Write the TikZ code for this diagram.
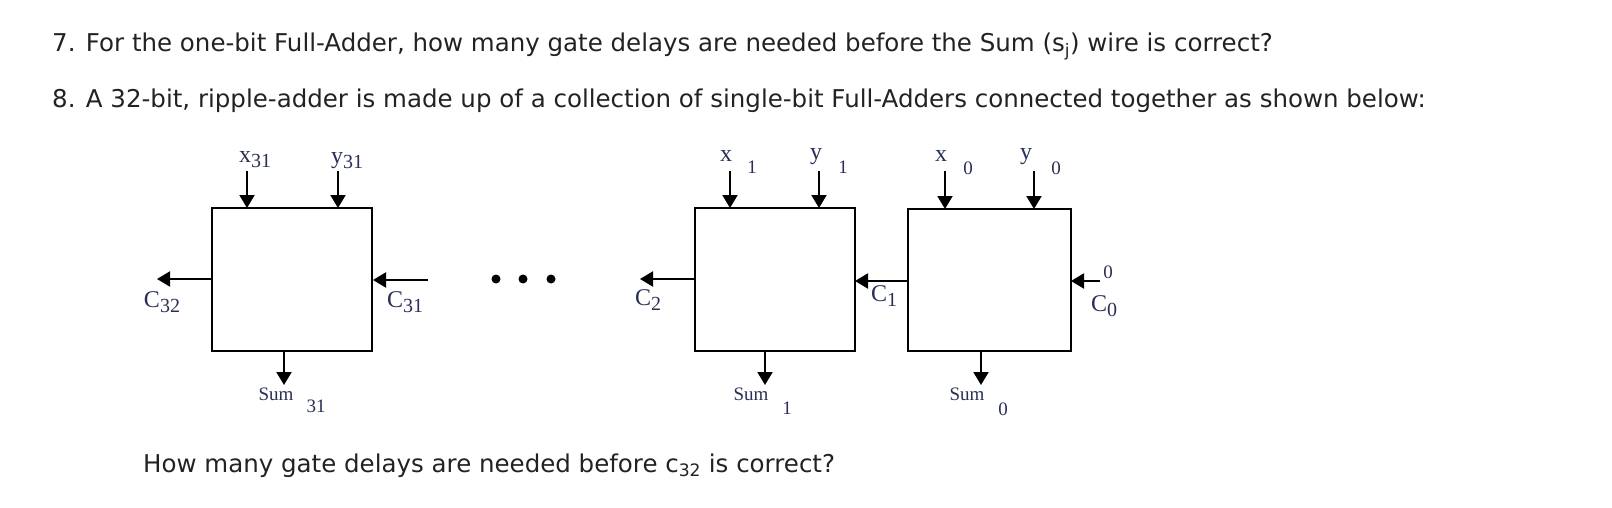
\documentclass[tikz,border=0pt]{standalone}
\usepackage{fontspec}
\setmainfont{DejaVu Sans}
\newfontfamily\lbl{Liberation Serif}
\usetikzlibrary{arrows.meta}
\definecolor{lab}{HTML}{2A2F55}
\definecolor{txt}{HTML}{222222}
\newcommand{\sbx}[1]{\raisebox{-5pt}{\fontsize{20}{20}\selectfont #1}}
\begin{document}
\begin{tikzpicture}[x=1pt,y=-1pt,
  box/.style={draw,line width=2pt,inner sep=0},
  wire/.style={line width=2pt,-{Triangle[length=13pt,width=15pt]}},
  q/.style={anchor=base west,text=txt,font=\fontsize{24.5}{28}\selectfont,inner sep=0},
  l/.style={text=lab,font=\lbl\fontsize{24}{26}\selectfont,inner sep=0},
  s/.style={text=lab,font=\lbl\fontsize{19}{21}\selectfont,inner sep=0}]
\useasboundingbox (0,0) rectangle (1612,508);
\node[q] (t7) at (52,52) {7. For the one-bit Full-Adder, how many gate delays are needed before the Sum (s\textsubscript{j}) wire is correct?};
\node[q] (t8) at (52,108) {8. A 32-bit, ripple-adder is made up of a collection of single-bit Full-Adders connected together as shown below:};
\node[q] (tq) at (143,472) {How many gate delays are needed before c\textsubscript{32} is correct?};
% boxes
\draw[box] (212,208) rectangle (372,351);
\draw[box] (695,208) rectangle (855,351);
\draw[box] (908,209) rectangle (1071,351);
% box 31
\coordinate (x31) at (247,171); \coordinate (x31e) at (247,208);
\coordinate (y31) at (338,171); \coordinate (y31e) at (338,208);
\draw[wire] (x31) -- (x31e); \draw[wire] (y31) -- (y31e);
\coordinate (c32s) at (212,279); \coordinate (c32e) at (157,279);
\draw[wire] (c32s) -- (c32e);
\coordinate (c31s) at (428,280); \coordinate (c31e) at (373,280);
\draw[wire] (c31s) -- (c31e);
\coordinate (s31s) at (284,351); \coordinate (s31e) at (284,385);
\draw[wire] (s31s) -- (s31e);
\node[l] (lx31) at (255,160) {x\sbx{31}};
\node[l] (ly31) at (347,161) {y\sbx{31}};
\node[l] (lc32) at (162,302) {C\sbx{32}};
\node[l] (lc31) at (405,302) {C\sbx{31}};
\node[s] (ls31) at (276,394) {Sum};
\node[s] (ls31i) at (316,406) {31};
% dots
\foreach \i/\xx in {1/496,2/523,3/551} \fill (\xx,279) circle (4.5pt);
% box 1
\draw[wire] (730,171) -- (730,208); \draw[wire] (819,171) -- (819,208);
\coordinate (c2s) at (695,279); \coordinate (c2e) at (640,279);
\draw[wire] (c2s) -- (c2e);
\coordinate (c1s) at (908,281); \coordinate (c1e) at (855,281);
\draw[wire] (c1s) -- (c1e);
\draw[wire] (765,351) -- (765,385);
\node[l] (lx1) at (726,156) {x}; \node[s] (lx1i) at (752,167) {1};
\node[l] (ly1) at (816,157) {y}; \node[s] (ly1i) at (843,167) {1};
\node[l] (lc2) at (648,300) {C\sbx{2}};
\node[l] (lc1) at (884,296) {C\sbx{1}};
\node[s] (ls1) at (751,394) {Sum}; \node[s] (ls1i) at (787,408) {1};
% box 0
\draw[wire] (945,171) -- (945,209); \draw[wire] (1034,171) -- (1034,209);
\coordinate (c0s) at (1100,281); \coordinate (c0e) at (1071,281);
\draw[wire] (c0s) -- (c0e);
\draw[wire] (981,351) -- (981,385);
\node[l] (lx0) at (941,156) {x}; \node[s] (lx0i) at (968,168) {0};
\node[l] (ly0) at (1026,157) {y}; \node[s] (ly0i) at (1056,168) {0};
\node[s] (l0) at (1108,272) {0};
\node[l] (lc0) at (1104,306) {C\sbx{0}};
\node[s] (ls0) at (967,394) {Sum}; \node[s] (ls0i) at (1003,409) {0};
\end{tikzpicture}
\end{document}
